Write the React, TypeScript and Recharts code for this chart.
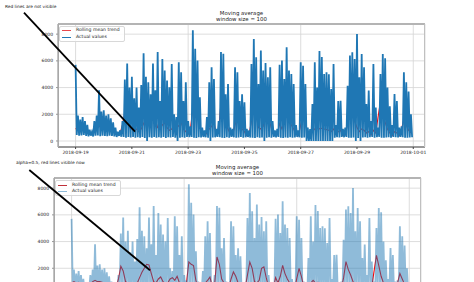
import { CartesianGrid, Legend, Line, LineChart, XAxis, YAxis } from "recharts"

const dateLabels = ["2018-09-19", "2018-09-21", "2018-09-23", "2018-09-25", "2018-09-27", "2018-09-29", "2018-10-01"]
const dateTickHours = [0, 48, 96, 144, 192, 240, 288]
const valueTicks = [0, 2000, 4000, 6000, 8000]

// highest reading in each 2-hour bin, 12 bins per day, 09-19 .. 09-30
const binPeaks = [
  5700, 1900, 1600, 1800, 1500, 1200, 850, 700, 1500, 1900, 3800, 2200,
  2300, 1900, 2000, 1700, 1400, 1000, 700, 800, 1500, 4600, 5800, 4000,
  4800, 3200, 4000, 2500, 4200, 6560, 4800, 4400, 3500, 5800, 3800, 6660,
  3000, 6130, 5270, 4520, 4020, 5770, 2000, 1800, 5890, 5150, 3000, 4390,
  1500, 1100, 8300, 6900, 6030, 3270, 1000, 800, 1800, 4390, 5520, 4640,
  900, 1500, 6660, 6530, 3500, 4270, 1000, 900, 5520, 5150, 3000, 3500,
  2900, 900, 800, 5770, 7640, 6260, 4270, 6780, 5270, 5830, 4770, 5520,
  1500, 800, 900, 5700, 6020, 4640, 7020, 5270, 5020, 4270, 1200, 800,
  5890, 5640, 4270, 1000, 900, 2770, 5890, 4000, 6730, 6280, 5020, 5150,
  5000, 3900, 5770, 1200, 3000, 3020, 900, 1000, 4140, 6400, 6650, 6140,
  8010, 4770, 6520, 5520, 2770, 3770, 1500, 5770, 2500, 1000, 5020, 6520,
  6200, 4000, 2600, 1200, 3520, 3000, 1000, 1100, 5150, 4390, 3700, 2000,
]

// lowest reading in each 2-hour bin
const binLows = [
  450, 400, 420, 450, 380, 350, 400, 340, 400, 420, 350, 400,
  380, 350, 400, 380, 350, 300, 380, 320, 300, 250, 300, 260,
  300, 250, 280, 250, 300, 230, 0, 280, 250, 300, 240, 280,
  250, 300, 220, 280, 260, 300, 250, 0, 250, 280, 240, 300,
  280, 300, 250, 220, 280, 260, 300, 280, 250, 0, 260, 280,
  300, 280, 250, 230, 280, 250, 300, 280, 240, 260, 300, 250,
  280, 300, 260, 250, 220, 280, 250, 260, 0, 240, 280, 250,
  300, 280, 300, 250, 230, 260, 250, 280, 240, 260, 300, 280,
  250, 260, 0, 0, 0, 0, 0, 0, 0, 0, 0, 0,
  0, 0, 250, 280, 260, 300, 280, 300, 250, 240, 260, 0,
  220, 0, 260, 280, 250, 280, 300, 250, 280, 300, 240, 250,
  260, 280, 250, 300, 280, 260, 300, 280, 250, 240, 260, 280,
]

// rolling mean (window size 100), sampled every 2 hours
const rollingMean = [
  900, 1000, 900, 950, 850, 800, 600, 500, 800, 1000, 1100, 1000,
  1000, 950, 900, 850, 750, 600, 500, 600, 1200, 2150, 1800, 1000,
  900, 800, 900, 700, 900, 1300, 1700, 2000, 2300, 2250, 1600, 1000,
  900, 1200, 1350, 1000, 800, 900, 1200, 1300, 1100, 1400, 900, 700,
  500, 900, 2470, 2300, 2200, 1100, 500, 400, 600, 900, 1100, 1340,
  600, 800, 2850, 2300, 1200, 900, 500, 500, 1200, 1730, 1400, 900,
  700, 400, 500, 1500, 2470, 2000, 1000, 900, 1100, 2000, 2100, 1300,
  600, 400, 500, 1300, 900, 1400, 2220, 1600, 1200, 900, 500, 400,
  1200, 2000, 1400, 600, 400, 700, 900, 1100, 900, 950, 900, 850,
  800, 700, 900, 500, 700, 800, 400, 450, 1300, 2500, 1900, 1500,
  1000, 700, 900, 800, 600, 700, 450, 800, 600, 1800, 2970, 2200,
  1400, 900, 600, 400, 700, 600, 400, 900, 1610, 1200, 800, 600,
]

const series = binPeaks.flatMap((peak, i) => [
  { hour: i * 2, actual: peak, rolling: rollingMean[i] },
  { hour: i * 2 + 1, actual: binLows[i] },
])

const FONT = "'DejaVu Sans', sans-serif"
const BLUE = "#1f77b4"
const RED = "#ff0000"

function LegendBox({ faded }: { faded: boolean }) {
  const row = { display: "flex", alignItems: "center", height: 6.5 }
  return (
    <div style={{ background: "rgba(255,255,255,0.85)", border: "1px solid #d8d8d8", borderRadius: 2, padding: "0.5px 4px 0.5px 2px", fontFamily: FONT, fontSize: 4.6, color: "#222", lineHeight: 1 }}>
      <div style={row}>
        <span style={{ width: 9, height: 1, background: faded ? "#c0303a" : "#e8474c", marginRight: 5 }} />
        Rolling mean trend
      </div>
      <div style={row}>
        <span style={{ width: 9, height: 1, background: faded ? "#8fbbd9" : BLUE, marginRight: 5 }} />
        Actual values
      </div>
    </div>
  )
}

function MovingAverageChart({ left, top, faded }: { left: number, top: number, faded: boolean }) {
  return (
    <div style={{ position: "absolute", left, top, width: 474, height: 175 }}>
      <div style={{ position: "absolute", left: 0, width: 483, top: 10.8, textAlign: "center", fontFamily: FONT, fontSize: 5.4, lineHeight: "5.9px", color: "#222" }}>
        Moving average<br />window size = 100
      </div>
      <LineChart width={474} height={175} data={series} margin={{ top: 24, right: 49, left: 0, bottom: 0 }}>
        <CartesianGrid stroke="#d4d4d4" strokeWidth={0.8} />
        <XAxis
          dataKey="hour"
          type="number"
          domain={[-15, 298]}
          ticks={dateTickHours}
          tickFormatter={(v) => dateLabels[dateTickHours.indexOf(v)]}
          allowDataOverflow
          height={28}
          tickSize={2}
          tickMargin={2}
          stroke="#444"
          tick={{ fontSize: 4.5, fill: "#222", fontFamily: FONT }}
        />
        <YAxis
          type="number"
          domain={[-450, 8760]}
          ticks={valueTicks}
          allowDataOverflow
          width={58}
          tickSize={2}
          tickMargin={3}
          stroke="#999"
          tick={{ fontSize: 4.5, fill: "#222", fontFamily: FONT }}
        />
        <Legend
          layout="vertical"
          align="center"
          verticalAlign="middle"
          wrapperStyle={{ left: 59, top: 26, width: "auto" }}
          content={() => <LegendBox faded={faded} />}
        />
        <Line dataKey="rolling" stroke={RED} strokeWidth={1.1} dot={false} connectNulls isAnimationActive={false} />
        <Line dataKey="actual" stroke={BLUE} strokeOpacity={faded ? 0.5 : 1} strokeWidth={1.8} strokeLinejoin="miter" dot={false} isAnimationActive={false} />
      </LineChart>
      <div style={{ position: "absolute", left: 58, top: 23, width: 367, height: 124, boxSizing: "border-box", borderTop: "2px solid #b4b4b4", borderLeft: "1px solid #a8a8a8", borderRight: "1px solid #c0c0c0", pointerEvents: "none" }} />
    </div>
  )
}

export default function App() {
  return (
    <div style={{ position: "absolute", left: 0, top: 0, width: 474, height: 282, overflow: "hidden", background: "#fff" }}>
      <MovingAverageChart left={0} top={0} faded={false} />
      <MovingAverageChart left={-4} top={154.3} faded={true} />
      <svg width={474} height={282} style={{ position: "absolute", left: 0, top: 0, pointerEvents: "none" }}>
        <text x={5} y={8.3} fontSize={4.3} fontFamily={FONT} fill="#111">Red lines are not visible</text>
        <line x1={24} y1={12.7} x2={135} y2={131.7} stroke="#000" strokeWidth={1.8} />
        <text x={16} y={164} fontSize={4.3} fontFamily={FONT} fill="#111">alpha=0.5, red lines visible now</text>
        <line x1={29.3} y1={170} x2={150} y2={270.3} stroke="#000" strokeWidth={1.8} />
      </svg>
    </div>
  )
}
